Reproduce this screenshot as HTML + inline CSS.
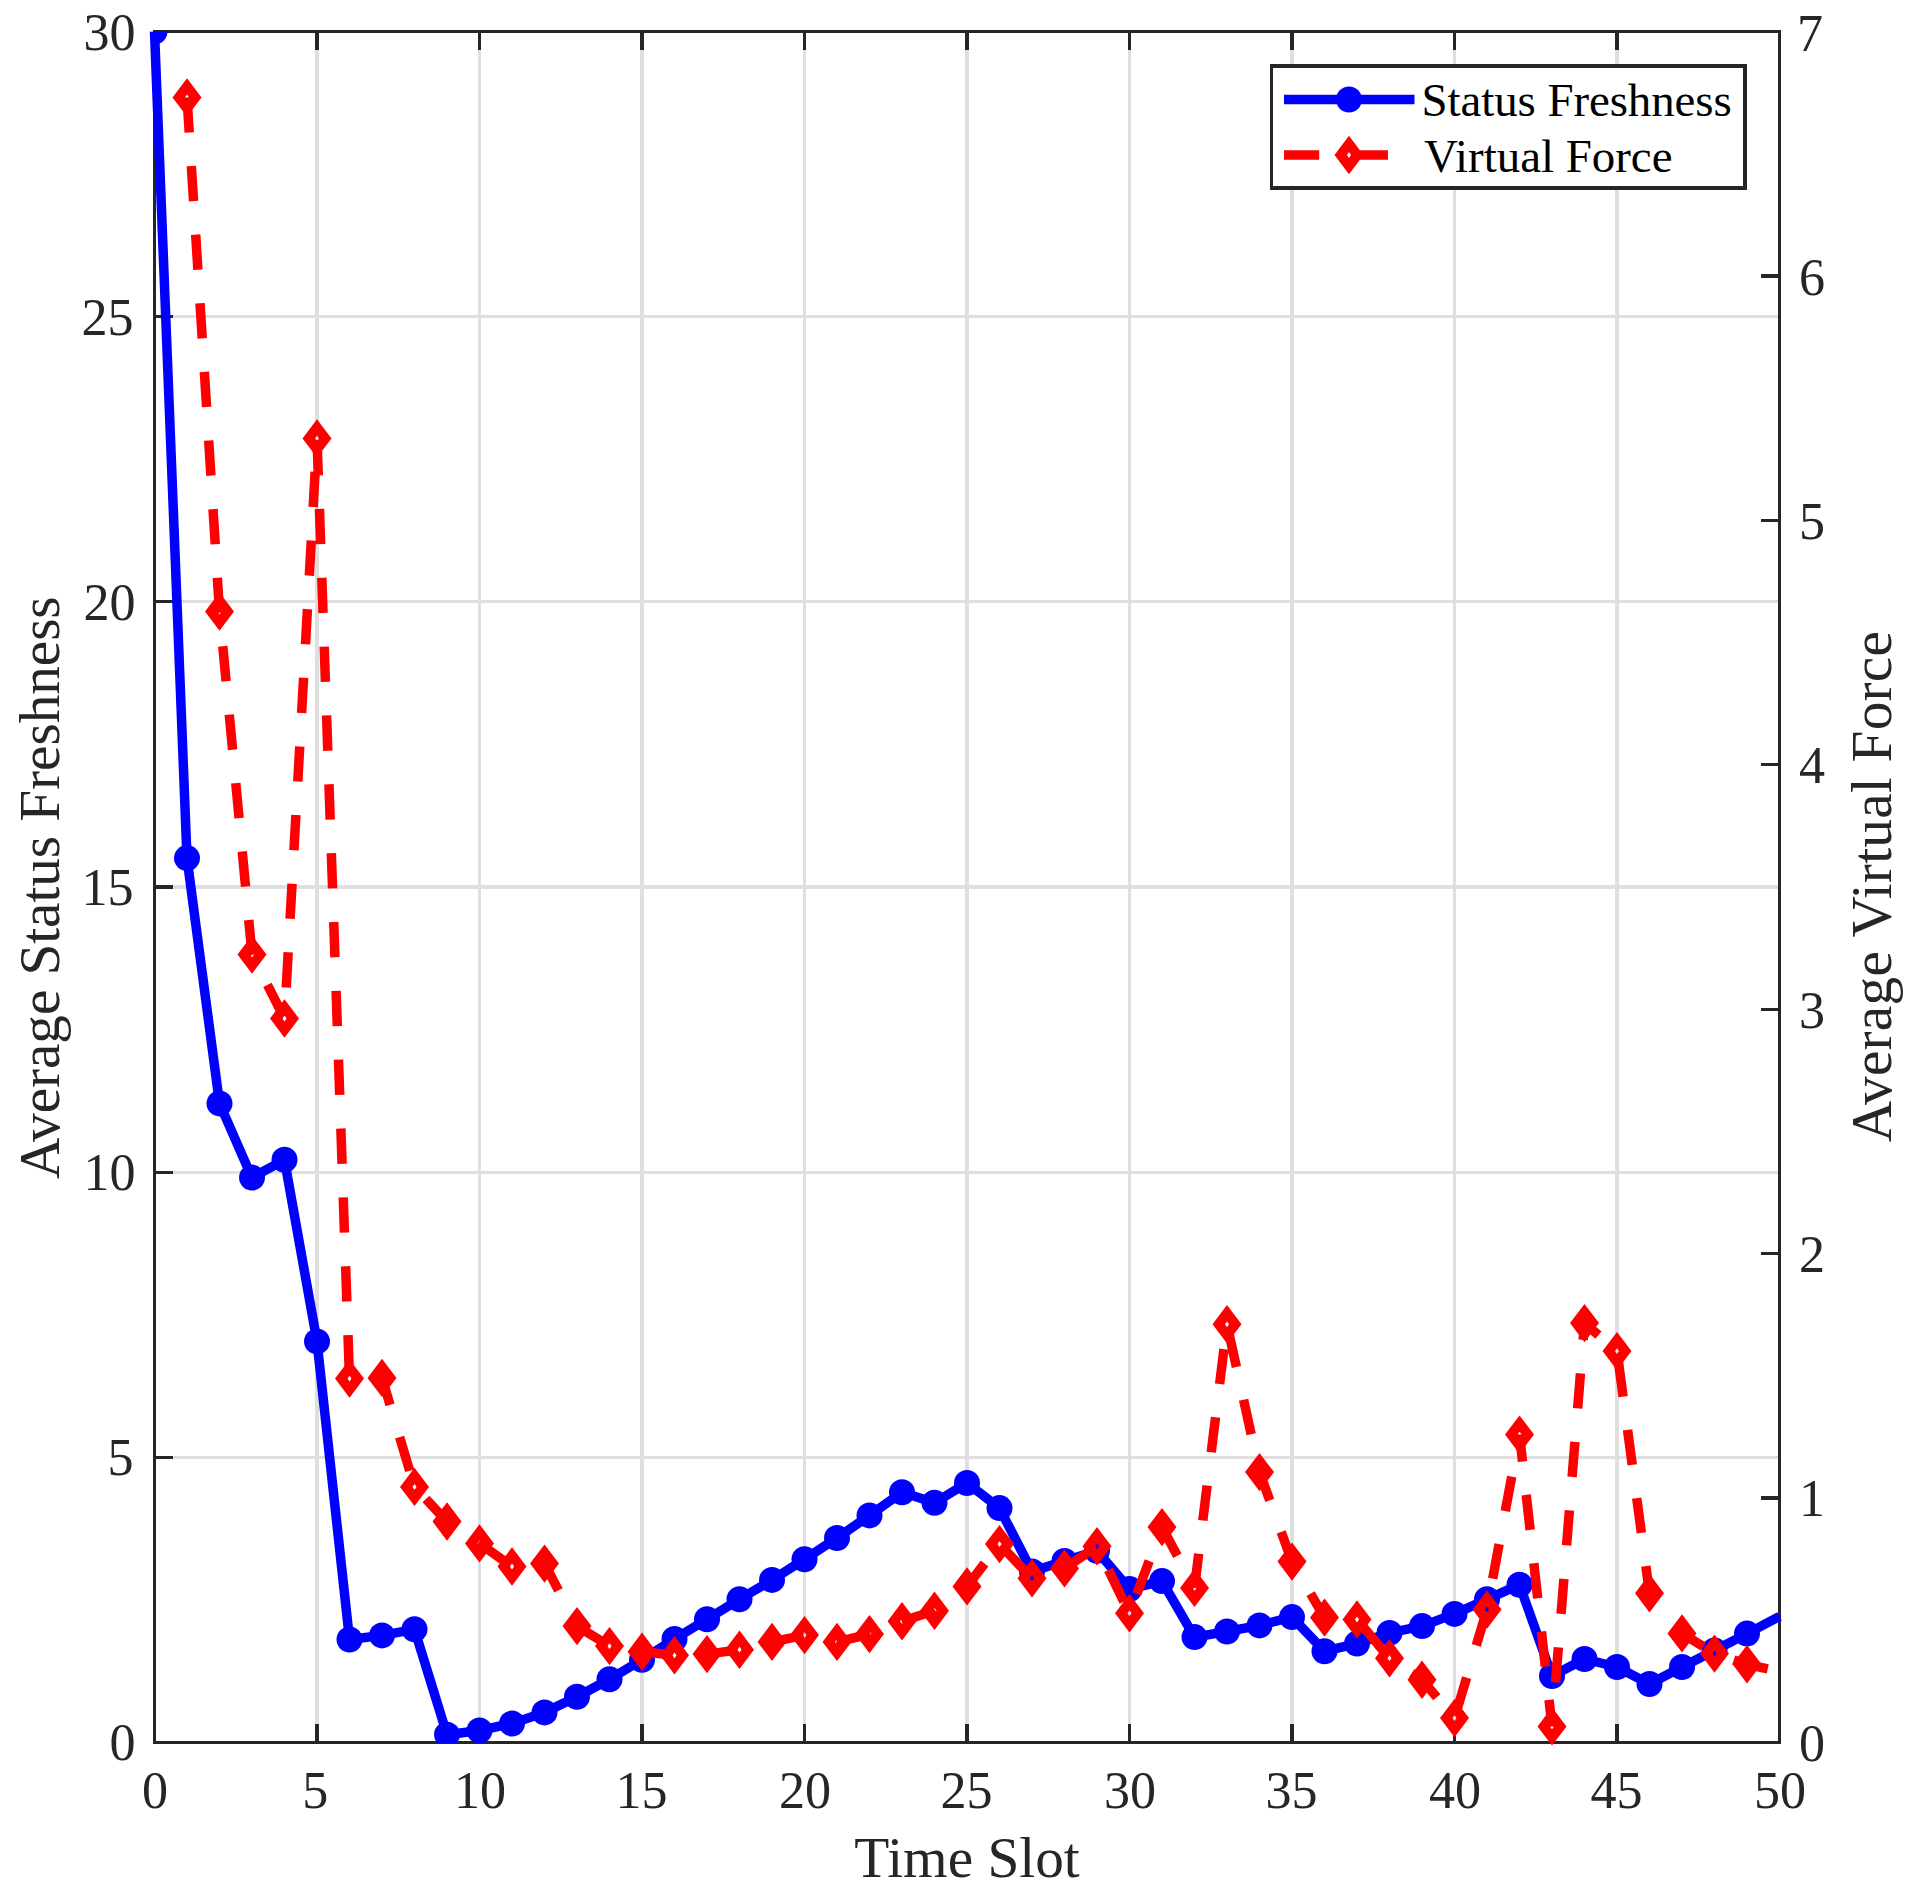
<!DOCTYPE html>
<html lang="en"><head><meta charset="utf-8"><title>Average Status Freshness and Virtual Force</title>
<style>
html,body{margin:0;padding:0;background:#fff;}
body{width:1918px;height:1890px;overflow:hidden;}
svg{display:block;}
text{font-family:"Liberation Serif","Times New Roman",serif;fill:#262626;}
.tk{font-size:52.08px;}
.lb{font-size:57.30px;}
.lg{font-size:46.90px;fill:#000;}
</style></head><body>
<svg width="1918" height="1890" viewBox="0 0 1918 1890">
<defs><clipPath id="box"><rect x="154.0" y="31.0" width="1626.5" height="1712.0"/></clipPath></defs>
<rect x="0" y="0" width="1918" height="1890" fill="#fff"/>
<g fill="#dfdfdf" shape-rendering="crispEdges">
<rect x="315" y="31.5" width="4" height="1711.0"/>
<rect x="478" y="31.5" width="3" height="1711.0"/>
<rect x="640" y="31.5" width="4" height="1711.0"/>
<rect x="803" y="31.5" width="3" height="1711.0"/>
<rect x="965" y="31.5" width="4" height="1711.0"/>
<rect x="1128" y="31.5" width="3" height="1711.0"/>
<rect x="1290" y="31.5" width="4" height="1711.0"/>
<rect x="1453" y="31.5" width="3" height="1711.0"/>
<rect x="1615" y="31.5" width="4" height="1711.0"/>
<rect x="154.5" y="1456" width="1625.0" height="3"/>
<rect x="154.5" y="1171" width="1625.0" height="3"/>
<rect x="154.5" y="885" width="1625.0" height="4"/>
<rect x="154.5" y="600" width="1625.0" height="3"/>
<rect x="154.5" y="315" width="1625.0" height="3"/>
</g>
<g fill="#262626" shape-rendering="crispEdges">
<rect x="153" y="30.0" width="3" height="1714.0"/>
<rect x="1778" y="30.0" width="3" height="1714.0"/>
<rect x="153.0" y="30" width="1628.0" height="3"/>
<rect x="153.0" y="1741" width="1628.0" height="3"/>
<rect x="315" y="1724.0" width="4" height="18.5"/>
<rect x="315" y="31.5" width="4" height="18.5"/>
<rect x="478" y="1724.0" width="3" height="18.5"/>
<rect x="478" y="31.5" width="3" height="18.5"/>
<rect x="640" y="1724.0" width="4" height="18.5"/>
<rect x="640" y="31.5" width="4" height="18.5"/>
<rect x="803" y="1724.0" width="3" height="18.5"/>
<rect x="803" y="31.5" width="3" height="18.5"/>
<rect x="965" y="1724.0" width="4" height="18.5"/>
<rect x="965" y="31.5" width="4" height="18.5"/>
<rect x="1128" y="1724.0" width="3" height="18.5"/>
<rect x="1128" y="31.5" width="3" height="18.5"/>
<rect x="1290" y="1724.0" width="4" height="18.5"/>
<rect x="1290" y="31.5" width="4" height="18.5"/>
<rect x="1453" y="1724.0" width="3" height="18.5"/>
<rect x="1453" y="31.5" width="3" height="18.5"/>
<rect x="1615" y="1724.0" width="4" height="18.5"/>
<rect x="1615" y="31.5" width="4" height="18.5"/>
<rect x="154.5" y="1456" width="18.5" height="3"/>
<rect x="154.5" y="1171" width="18.5" height="3"/>
<rect x="154.5" y="885" width="18.5" height="4"/>
<rect x="154.5" y="600" width="18.5" height="3"/>
<rect x="154.5" y="315" width="18.5" height="3"/>
<rect x="1761.0" y="1496" width="18.5" height="4"/>
<rect x="1761.0" y="1252" width="18.5" height="3"/>
<rect x="1761.0" y="1008" width="18.5" height="3"/>
<rect x="1761.0" y="763" width="18.5" height="3"/>
<rect x="1761.0" y="519" width="18.5" height="3"/>
<rect x="1761.0" y="274" width="18.5" height="4"/>
</g>
<polyline points="154.5,31.5 187.0,858.1 219.5,1103.4 252.0,1177.6 284.5,1159.8 317.0,1341.4 349.5,1639.5 382.0,1635.4 414.5,1629.3 447.0,1734.7 479.5,1730.5 512.0,1723.5 544.5,1712.4 577.0,1696.7 609.5,1679.2 642.0,1659.7 674.5,1639.0 707.0,1619.3 739.5,1599.3 772.0,1579.9 804.5,1559.2 837.0,1538.0 869.5,1515.4 902.0,1492.3 934.5,1502.7 967.0,1483.0 999.5,1508.1 1032.0,1571.4 1064.5,1560.9 1097.0,1550.7 1129.5,1589.1 1162.0,1581.1 1194.5,1637.1 1227.0,1631.5 1259.5,1625.4 1292.0,1617.1 1324.5,1651.2 1357.0,1643.6 1389.5,1632.9 1422.0,1626.1 1454.5,1613.9 1487.0,1599.3 1519.5,1584.7 1552.0,1676.0 1584.5,1659.0 1617.0,1667.0 1649.5,1684.0 1682.0,1667.0 1714.5,1650.4 1747.0,1633.6 1779.5,1616.4" fill="none" stroke="#0000ff" stroke-width="9.5" stroke-linejoin="round" stroke-linecap="butt"/>
<g fill="#0000ff" clip-path="url(#box)">
<circle cx="154.5" cy="31.5" r="13"/>
<circle cx="187.0" cy="858.1" r="13"/>
<circle cx="219.5" cy="1103.4" r="13"/>
<circle cx="252.0" cy="1177.6" r="13"/>
<circle cx="284.5" cy="1159.8" r="13"/>
<circle cx="317.0" cy="1341.4" r="13"/>
<circle cx="349.5" cy="1639.5" r="13"/>
<circle cx="382.0" cy="1635.4" r="13"/>
<circle cx="414.5" cy="1629.3" r="13"/>
<circle cx="447.0" cy="1734.7" r="13"/>
<circle cx="479.5" cy="1730.5" r="13"/>
<circle cx="512.0" cy="1723.5" r="13"/>
<circle cx="544.5" cy="1712.4" r="13"/>
<circle cx="577.0" cy="1696.7" r="13"/>
<circle cx="609.5" cy="1679.2" r="13"/>
<circle cx="642.0" cy="1659.7" r="13"/>
<circle cx="674.5" cy="1639.0" r="13"/>
<circle cx="707.0" cy="1619.3" r="13"/>
<circle cx="739.5" cy="1599.3" r="13"/>
<circle cx="772.0" cy="1579.9" r="13"/>
<circle cx="804.5" cy="1559.2" r="13"/>
<circle cx="837.0" cy="1538.0" r="13"/>
<circle cx="869.5" cy="1515.4" r="13"/>
<circle cx="902.0" cy="1492.3" r="13"/>
<circle cx="934.5" cy="1502.7" r="13"/>
<circle cx="967.0" cy="1483.0" r="13"/>
<circle cx="999.5" cy="1508.1" r="13"/>
<circle cx="1032.0" cy="1571.4" r="13"/>
<circle cx="1064.5" cy="1560.9" r="13"/>
<circle cx="1097.0" cy="1550.7" r="13"/>
<circle cx="1129.5" cy="1589.1" r="13"/>
<circle cx="1162.0" cy="1581.1" r="13"/>
<circle cx="1194.5" cy="1637.1" r="13"/>
<circle cx="1227.0" cy="1631.5" r="13"/>
<circle cx="1259.5" cy="1625.4" r="13"/>
<circle cx="1292.0" cy="1617.1" r="13"/>
<circle cx="1324.5" cy="1651.2" r="13"/>
<circle cx="1357.0" cy="1643.6" r="13"/>
<circle cx="1389.5" cy="1632.9" r="13"/>
<circle cx="1422.0" cy="1626.1" r="13"/>
<circle cx="1454.5" cy="1613.9" r="13"/>
<circle cx="1487.0" cy="1599.3" r="13"/>
<circle cx="1519.5" cy="1584.7" r="13"/>
<circle cx="1552.0" cy="1676.0" r="13"/>
<circle cx="1584.5" cy="1659.0" r="13"/>
<circle cx="1617.0" cy="1667.0" r="13"/>
<circle cx="1649.5" cy="1684.0" r="13"/>
<circle cx="1682.0" cy="1667.0" r="13"/>
<circle cx="1714.5" cy="1650.4" r="13"/>
<circle cx="1747.0" cy="1633.6" r="13"/>
</g>
<polyline points="187.0,97.4 219.5,611.6 252.0,954.5 284.5,1018.5 317.0,438.4" fill="none" stroke="#ff0000" stroke-width="9.5" stroke-linejoin="miter" stroke-linecap="butt" stroke-dasharray="35.2 33.55" stroke-dashoffset="0.00"/>
<polyline points="317.0,438.4 349.5,1378.6" fill="none" stroke="#ff0000" stroke-width="9.5" stroke-linejoin="miter" stroke-linecap="butt" stroke-dasharray="35.3 33.59" stroke-dashoffset="67.25"/>
<polyline points="349.5,1378.6 382.0,1377.9 414.5,1486.9 447.0,1521.5 479.5,1543.4 512.0,1566.5 544.5,1563.6 577.0,1626.1 609.5,1646.1 642.0,1651.7 674.5,1655.3 707.0,1654.1 739.5,1649.7 772.0,1641.9 804.5,1635.1 837.0,1641.9 869.5,1634.1 902.0,1621.2 934.5,1610.8 967.0,1586.4 999.5,1544.1 1032.0,1578.2 1064.5,1568.4 1097.0,1546.3 1129.5,1613.2 1162.0,1527.1 1194.5,1587.9" fill="none" stroke="#ff0000" stroke-width="9.5" stroke-linejoin="miter" stroke-linecap="butt" stroke-dasharray="35.2 33.55" stroke-dashoffset="43.30"/>
<polyline points="1194.5,1587.9 1227.0,1324.3 1259.5,1472.1 1292.0,1561.6 1324.5,1617.6 1357.0,1619.5 1389.5,1658.2 1422.0,1679.7 1454.5,1718.1" fill="none" stroke="#ff0000" stroke-width="9.5" stroke-linejoin="miter" stroke-linecap="butt" stroke-dasharray="35.2 33.55" stroke-dashoffset="0.80"/>
<polyline points="1454.5,1718.1 1487.0,1609.6 1519.5,1434.6" fill="none" stroke="#ff0000" stroke-width="9.5" stroke-linejoin="miter" stroke-linecap="butt" stroke-dasharray="35.2 33.55" stroke-dashoffset="61.60"/>
<polyline points="1519.5,1434.6 1552.0,1726.4" fill="none" stroke="#ff0000" stroke-width="9.5" stroke-linejoin="miter" stroke-linecap="butt" stroke-dasharray="35.2 33.55" stroke-dashoffset="8.10"/>
<polyline points="1552.0,1726.4 1584.5,1323.1 1617.0,1351.1" fill="none" stroke="#ff0000" stroke-width="9.5" stroke-linejoin="miter" stroke-linecap="butt" stroke-dasharray="35.2 33.55" stroke-dashoffset="24.70"/>
<polyline points="1617.0,1351.1 1649.5,1593.3 1682.0,1633.4 1714.5,1653.6 1747.0,1664.3 1779.5,1671.3" fill="none" stroke="#ff0000" stroke-width="9.5" stroke-linejoin="miter" stroke-linecap="butt" stroke-dasharray="35.2 33.55" stroke-dashoffset="58.00"/>
<path fill="#ff0000" fill-rule="evenodd" d="M187.0 78.2L201.5 97.4L187.0 116.6L172.5 97.4ZM187.0 94.5L189.0 97.4L187.0 100.3L185.0 97.4Z"/>
<path fill="#ff0000" fill-rule="evenodd" d="M219.5 592.4L234.0 611.6L219.5 630.8L205.0 611.6ZM219.5 608.7L221.5 611.6L219.5 614.5L217.5 611.6Z"/>
<path fill="#ff0000" fill-rule="evenodd" d="M252.0 935.3L266.5 954.5L252.0 973.7L237.5 954.5ZM252.0 951.6L254.0 954.5L252.0 957.4L250.0 954.5Z"/>
<path fill="#ff0000" fill-rule="evenodd" d="M284.5 999.3L299.0 1018.5L284.5 1037.7L270.0 1018.5ZM284.5 1015.6L286.5 1018.5L284.5 1021.4L282.5 1018.5Z"/>
<path fill="#ff0000" fill-rule="evenodd" d="M317.0 419.2L331.5 438.4L317.0 457.6L302.5 438.4ZM317.0 435.5L319.0 438.4L317.0 441.3L315.0 438.4Z"/>
<path fill="#ff0000" fill-rule="evenodd" d="M349.5 1359.4L364.0 1378.6L349.5 1397.8L335.0 1378.6ZM349.5 1375.7L351.5 1378.6L349.5 1381.5L347.5 1378.6Z"/>
<path fill="#ff0000" fill-rule="evenodd" d="M382.0 1358.7L396.5 1377.9L382.0 1397.1L367.5 1377.9ZM382.0 1375.0L384.0 1377.9L382.0 1380.8L380.0 1377.9Z"/>
<path fill="#ff0000" fill-rule="evenodd" d="M414.5 1467.7L429.0 1486.9L414.5 1506.1L400.0 1486.9ZM414.5 1484.0L416.5 1486.9L414.5 1489.8L412.5 1486.9Z"/>
<path fill="#ff0000" fill-rule="evenodd" d="M447.0 1502.3L461.5 1521.5L447.0 1540.7L432.5 1521.5ZM447.0 1518.6L449.0 1521.5L447.0 1524.4L445.0 1521.5Z"/>
<path fill="#ff0000" fill-rule="evenodd" d="M479.5 1524.2L494.0 1543.4L479.5 1562.6L465.0 1543.4ZM479.5 1540.5L481.5 1543.4L479.5 1546.3L477.5 1543.4Z"/>
<path fill="#ff0000" fill-rule="evenodd" d="M512.0 1547.3L526.5 1566.5L512.0 1585.7L497.5 1566.5ZM512.0 1563.6L514.0 1566.5L512.0 1569.4L510.0 1566.5Z"/>
<path fill="#ff0000" fill-rule="evenodd" d="M544.5 1544.4L559.0 1563.6L544.5 1582.8L530.0 1563.6ZM544.5 1560.7L546.5 1563.6L544.5 1566.5L542.5 1563.6Z"/>
<path fill="#ff0000" fill-rule="evenodd" d="M577.0 1606.9L591.5 1626.1L577.0 1645.3L562.5 1626.1ZM577.0 1623.2L579.0 1626.1L577.0 1629.0L575.0 1626.1Z"/>
<path fill="#ff0000" fill-rule="evenodd" d="M609.5 1626.9L624.0 1646.1L609.5 1665.3L595.0 1646.1ZM609.5 1643.2L611.5 1646.1L609.5 1649.0L607.5 1646.1Z"/>
<path fill="#ff0000" fill-rule="evenodd" d="M642.0 1632.5L656.5 1651.7L642.0 1670.9L627.5 1651.7ZM642.0 1648.8L644.0 1651.7L642.0 1654.6L640.0 1651.7Z"/>
<path fill="#ff0000" fill-rule="evenodd" d="M674.5 1636.1L689.0 1655.3L674.5 1674.5L660.0 1655.3ZM674.5 1652.4L676.5 1655.3L674.5 1658.2L672.5 1655.3Z"/>
<path fill="#ff0000" fill-rule="evenodd" d="M707.0 1634.9L721.5 1654.1L707.0 1673.3L692.5 1654.1ZM707.0 1651.2L709.0 1654.1L707.0 1657.0L705.0 1654.1Z"/>
<path fill="#ff0000" fill-rule="evenodd" d="M739.5 1630.5L754.0 1649.7L739.5 1668.9L725.0 1649.7ZM739.5 1646.8L741.5 1649.7L739.5 1652.6L737.5 1649.7Z"/>
<path fill="#ff0000" fill-rule="evenodd" d="M772.0 1622.7L786.5 1641.9L772.0 1661.1L757.5 1641.9ZM772.0 1639.0L774.0 1641.9L772.0 1644.8L770.0 1641.9Z"/>
<path fill="#ff0000" fill-rule="evenodd" d="M804.5 1615.9L819.0 1635.1L804.5 1654.3L790.0 1635.1ZM804.5 1632.2L806.5 1635.1L804.5 1638.0L802.5 1635.1Z"/>
<path fill="#ff0000" fill-rule="evenodd" d="M837.0 1622.7L851.5 1641.9L837.0 1661.1L822.5 1641.9ZM837.0 1639.0L839.0 1641.9L837.0 1644.8L835.0 1641.9Z"/>
<path fill="#ff0000" fill-rule="evenodd" d="M869.5 1614.9L884.0 1634.1L869.5 1653.3L855.0 1634.1ZM869.5 1631.2L871.5 1634.1L869.5 1637.0L867.5 1634.1Z"/>
<path fill="#ff0000" fill-rule="evenodd" d="M902.0 1602.0L916.5 1621.2L902.0 1640.4L887.5 1621.2ZM902.0 1618.3L904.0 1621.2L902.0 1624.1L900.0 1621.2Z"/>
<path fill="#ff0000" fill-rule="evenodd" d="M934.5 1591.6L949.0 1610.8L934.5 1630.0L920.0 1610.8ZM934.5 1607.9L936.5 1610.8L934.5 1613.7L932.5 1610.8Z"/>
<path fill="#ff0000" fill-rule="evenodd" d="M967.0 1567.2L981.5 1586.4L967.0 1605.6L952.5 1586.4ZM967.0 1583.5L969.0 1586.4L967.0 1589.3L965.0 1586.4Z"/>
<path fill="#ff0000" fill-rule="evenodd" d="M999.5 1524.9L1014.0 1544.1L999.5 1563.3L985.0 1544.1ZM999.5 1541.2L1001.5 1544.1L999.5 1547.0L997.5 1544.1Z"/>
<path fill="#ff0000" fill-rule="evenodd" d="M1032.0 1559.0L1046.5 1578.2L1032.0 1597.4L1017.5 1578.2ZM1032.0 1575.3L1034.0 1578.2L1032.0 1581.1L1030.0 1578.2Z"/>
<path fill="#ff0000" fill-rule="evenodd" d="M1064.5 1549.2L1079.0 1568.4L1064.5 1587.6L1050.0 1568.4ZM1064.5 1565.5L1066.5 1568.4L1064.5 1571.3L1062.5 1568.4Z"/>
<path fill="#ff0000" fill-rule="evenodd" d="M1097.0 1527.1L1111.5 1546.3L1097.0 1565.5L1082.5 1546.3ZM1097.0 1543.4L1099.0 1546.3L1097.0 1549.2L1095.0 1546.3Z"/>
<path fill="#ff0000" fill-rule="evenodd" d="M1129.5 1594.0L1144.0 1613.2L1129.5 1632.4L1115.0 1613.2ZM1129.5 1610.3L1131.5 1613.2L1129.5 1616.1L1127.5 1613.2Z"/>
<path fill="#ff0000" fill-rule="evenodd" d="M1162.0 1507.9L1176.5 1527.1L1162.0 1546.3L1147.5 1527.1ZM1162.0 1524.2L1164.0 1527.1L1162.0 1530.0L1160.0 1527.1Z"/>
<path fill="#ff0000" fill-rule="evenodd" d="M1194.5 1568.7L1209.0 1587.9L1194.5 1607.1L1180.0 1587.9ZM1194.5 1585.0L1196.5 1587.9L1194.5 1590.8L1192.5 1587.9Z"/>
<path fill="#ff0000" fill-rule="evenodd" d="M1227.0 1305.1L1241.5 1324.3L1227.0 1343.5L1212.5 1324.3ZM1227.0 1321.4L1229.0 1324.3L1227.0 1327.2L1225.0 1324.3Z"/>
<path fill="#ff0000" fill-rule="evenodd" d="M1259.5 1452.9L1274.0 1472.1L1259.5 1491.3L1245.0 1472.1ZM1259.5 1469.2L1261.5 1472.1L1259.5 1475.0L1257.5 1472.1Z"/>
<path fill="#ff0000" fill-rule="evenodd" d="M1292.0 1542.4L1306.5 1561.6L1292.0 1580.8L1277.5 1561.6ZM1292.0 1558.7L1294.0 1561.6L1292.0 1564.5L1290.0 1561.6Z"/>
<path fill="#ff0000" fill-rule="evenodd" d="M1324.5 1598.4L1339.0 1617.6L1324.5 1636.8L1310.0 1617.6ZM1324.5 1614.7L1326.5 1617.6L1324.5 1620.5L1322.5 1617.6Z"/>
<path fill="#ff0000" fill-rule="evenodd" d="M1357.0 1600.3L1371.5 1619.5L1357.0 1638.7L1342.5 1619.5ZM1357.0 1616.6L1359.0 1619.5L1357.0 1622.4L1355.0 1619.5Z"/>
<path fill="#ff0000" fill-rule="evenodd" d="M1389.5 1639.0L1404.0 1658.2L1389.5 1677.4L1375.0 1658.2ZM1389.5 1655.3L1391.5 1658.2L1389.5 1661.1L1387.5 1658.2Z"/>
<path fill="#ff0000" fill-rule="evenodd" d="M1422.0 1660.5L1436.5 1679.7L1422.0 1698.9L1407.5 1679.7ZM1422.0 1676.8L1424.0 1679.7L1422.0 1682.6L1420.0 1679.7Z"/>
<path fill="#ff0000" fill-rule="evenodd" d="M1454.5 1698.9L1469.0 1718.1L1454.5 1737.3L1440.0 1718.1ZM1454.5 1715.2L1456.5 1718.1L1454.5 1721.0L1452.5 1718.1Z"/>
<path fill="#ff0000" fill-rule="evenodd" d="M1487.0 1590.4L1501.5 1609.6L1487.0 1628.8L1472.5 1609.6ZM1487.0 1606.7L1489.0 1609.6L1487.0 1612.5L1485.0 1609.6Z"/>
<path fill="#ff0000" fill-rule="evenodd" d="M1519.5 1415.4L1534.0 1434.6L1519.5 1453.8L1505.0 1434.6ZM1519.5 1431.7L1521.5 1434.6L1519.5 1437.5L1517.5 1434.6Z"/>
<path fill="#ff0000" fill-rule="evenodd" d="M1552.0 1707.2L1566.5 1726.4L1552.0 1745.6L1537.5 1726.4ZM1552.0 1723.5L1554.0 1726.4L1552.0 1729.3L1550.0 1726.4Z"/>
<path fill="#ff0000" fill-rule="evenodd" d="M1584.5 1303.9L1599.0 1323.1L1584.5 1342.3L1570.0 1323.1ZM1584.5 1320.2L1586.5 1323.1L1584.5 1326.0L1582.5 1323.1Z"/>
<path fill="#ff0000" fill-rule="evenodd" d="M1617.0 1331.9L1631.5 1351.1L1617.0 1370.3L1602.5 1351.1ZM1617.0 1348.2L1619.0 1351.1L1617.0 1354.0L1615.0 1351.1Z"/>
<path fill="#ff0000" fill-rule="evenodd" d="M1649.5 1574.1L1664.0 1593.3L1649.5 1612.5L1635.0 1593.3ZM1649.5 1590.4L1651.5 1593.3L1649.5 1596.2L1647.5 1593.3Z"/>
<path fill="#ff0000" fill-rule="evenodd" d="M1682.0 1614.2L1696.5 1633.4L1682.0 1652.6L1667.5 1633.4ZM1682.0 1630.5L1684.0 1633.4L1682.0 1636.3L1680.0 1633.4Z"/>
<path fill="#ff0000" fill-rule="evenodd" d="M1714.5 1634.4L1729.0 1653.6L1714.5 1672.8L1700.0 1653.6ZM1714.5 1650.7L1716.5 1653.6L1714.5 1656.5L1712.5 1653.6Z"/>
<path fill="#ff0000" fill-rule="evenodd" d="M1747.0 1645.1L1761.5 1664.3L1747.0 1683.5L1732.5 1664.3ZM1747.0 1661.4L1749.0 1664.3L1747.0 1667.2L1745.0 1664.3Z"/>
<text class="tk" x="155.0" y="1808.3" text-anchor="middle">0</text>
<text class="tk" x="315.2" y="1808.3" text-anchor="middle">5</text>
<text class="tk" x="480.0" y="1808.3" text-anchor="middle">10</text>
<text class="tk" x="641.5" y="1808.3" text-anchor="middle">15</text>
<text class="tk" x="805.0" y="1808.3" text-anchor="middle">20</text>
<text class="tk" x="966.5" y="1808.3" text-anchor="middle">25</text>
<text class="tk" x="1130.0" y="1808.3" text-anchor="middle">30</text>
<text class="tk" x="1291.5" y="1808.3" text-anchor="middle">35</text>
<text class="tk" x="1455.0" y="1808.3" text-anchor="middle">40</text>
<text class="tk" x="1616.5" y="1808.3" text-anchor="middle">45</text>
<text class="tk" x="1780.0" y="1808.3" text-anchor="middle">50</text>
<text class="tk" x="135.5" y="1760.3" text-anchor="end">0</text>
<text class="tk" x="133.5" y="1475.1" text-anchor="end">5</text>
<text class="tk" x="135.5" y="1190.0" text-anchor="end">10</text>
<text class="tk" x="133.5" y="904.8" text-anchor="end">15</text>
<text class="tk" x="135.5" y="619.6" text-anchor="end">20</text>
<text class="tk" x="133.5" y="335.1" text-anchor="end">25</text>
<text class="tk" x="135.5" y="50.4" text-anchor="end">30</text>
<text class="tk" x="1799.0" y="1760.5" text-anchor="start">0</text>
<text class="tk" x="1799.0" y="1516.2" text-anchor="start">1</text>
<text class="tk" x="1799.0" y="1271.8" text-anchor="start">2</text>
<text class="tk" x="1799.0" y="1027.5" text-anchor="start">3</text>
<text class="tk" x="1799.0" y="783.2" text-anchor="start">4</text>
<text class="tk" x="1799.0" y="538.9" text-anchor="start">5</text>
<text class="tk" x="1799.0" y="294.5" text-anchor="start">6</text>
<text class="tk" x="1797.0" y="51.0" text-anchor="start">7</text>
<text class="lb" x="967" y="1877" text-anchor="middle">Time Slot</text>
<text class="lb" transform="translate(59.2,887.7) rotate(-90)" text-anchor="middle" style="letter-spacing:-0.083px">Average Status Freshness</text>
<text class="lb" transform="translate(1891.3,886.6) rotate(-90)" text-anchor="middle" style="letter-spacing:0.225px">Average Virtual Force</text>
<rect x="1270" y="64" width="477" height="126" fill="#262626" shape-rendering="crispEdges"/>
<rect x="1273" y="68" width="470" height="118" fill="#fff" shape-rendering="crispEdges"/>
<line x1="1284" y1="99.5" x2="1414.5" y2="99.5" stroke="#0000ff" stroke-width="9.5"/>
<circle cx="1349" cy="99.5" r="13" fill="#0000ff"/>
<line x1="1284" y1="155" x2="1414.5" y2="155" stroke="#ff0000" stroke-width="9.5" stroke-dasharray="35.2 33.55"/>
<path fill="#ff0000" fill-rule="evenodd" d="M1349.0 135.8L1363.5 155.0L1349.0 174.2L1334.5 155.0ZM1349.0 152.1L1351.0 155.0L1349.0 157.9L1347.0 155.0Z"/>
<text class="lg" x="1421.6" y="116" style="letter-spacing:-0.08px;font-kerning:none">Status Freshness</text>
<text class="lg" x="1424" y="171.5">Virtual Force</text>
</svg>
</body></html>
